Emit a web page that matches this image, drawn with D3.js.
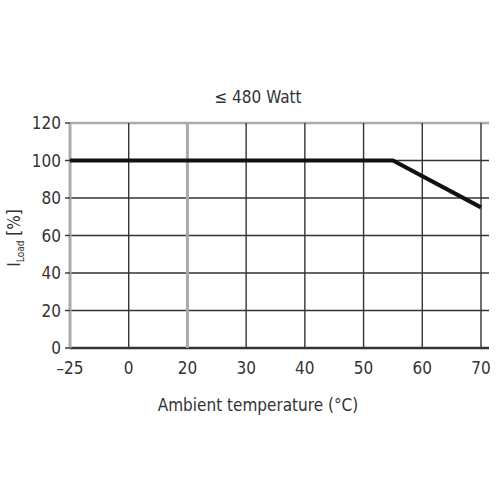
<!DOCTYPE html>
<html><head><meta charset="utf-8">
<script src="https://cdn.jsdelivr.net/npm/d3@7"></script>
<style>
body{margin:0;background:#fff;}
text{font-family:"Liberation Sans Narrow","DejaVu Sans Condensed","Roboto Condensed",sans-serif;fill:#333;}
</style></head>
<body><svg id="c" width="500" height="500"></svg>
<script>
const title = "≤ 480 Watt";
const xTicks = [-25, 0, 20, 30, 40, 50, 60, 70];
const yTicks = [0, 20, 40, 60, 80, 100, 120];
const lightX = [-25, 20];
const lineTemp = [-25, 55, 70];
const lineLoad = [100, 100, 75];
const xLabel = "Ambient temperature (°C)";

const svg = d3.select("#c");
const pLeft = 70, pRight = 481, pTop = 123, pBottom = 348;
const step = (pRight - pLeft) / (xTicks.length - 1);
const x = d3.scaleLinear().domain(xTicks).range(xTicks.map((d, i) => pLeft + i * step));
const y = d3.scaleLinear().domain([0, 120]).range([pBottom, pTop]);

// horizontal grid
svg.append("g").selectAll("line").data(yTicks).join("line")
  .attr("x1", pLeft).attr("x2", pRight + 8)
  .attr("y1", d => y(d)).attr("y2", d => y(d))
  .attr("stroke", d => d === 120 ? "#aaa" : "#333")
  .attr("stroke-width", d => d === 0 ? 2.5 : d === 120 ? 2.5 : 1.4);

// vertical grid
svg.append("g").selectAll("line").data(xTicks).join("line")
  .attr("x1", d => x(d)).attr("x2", d => x(d))
  .attr("y1", pTop).attr("y2", pBottom)
  .attr("stroke", d => lightX.includes(d) ? "#aaa" : "#333")
  .attr("stroke-width", d => lightX.includes(d) ? 3 : 1.4);

// tick stubs on y axis
svg.append("g").selectAll("line").data(yTicks).join("line")
  .attr("x1", pLeft - 5).attr("x2", pLeft)
  .attr("y1", d => y(d)).attr("y2", d => y(d))
  .attr("stroke", "#333").attr("stroke-width", 1.4);

// data line
svg.append("path")
  .datum(lineTemp.map((t, i) => [t, lineLoad[i]]))
  .attr("d", d3.line().x(d => x(d[0])).y(d => y(d[1])))
  .attr("fill", "none").attr("stroke", "#111").attr("stroke-width", 4);

// y labels
svg.append("g").selectAll("text").data(yTicks).join("text")
  .attr("x", pLeft - 9).attr("y", d => y(d)).attr("dy", "0.36em")
  .attr("text-anchor", "end").attr("font-size", 17).text(d => d);

// x labels
svg.append("g").selectAll("text").data(xTicks).join("text")
  .attr("x", d => x(d)).attr("y", pBottom + 26)
  .attr("text-anchor", "middle").attr("font-size", 17)
  .text(d => d < 0 ? "\u2013" + Math.abs(d) : d);

// title
svg.append("text").attr("x", 258).attr("y", 103)
  .attr("text-anchor", "middle").attr("font-size", 17).text(title);

// x axis label
svg.append("text").attr("x", 258).attr("y", 411)
  .attr("text-anchor", "middle").attr("font-size", 17).text(xLabel);

// y axis label
const yl = svg.append("text").attr("transform", "translate(20,238) rotate(-90)")
  .attr("text-anchor", "middle").attr("font-size", 17);
yl.append("tspan").text("I");
yl.append("tspan").attr("font-size", 10).attr("dy", 4).text("Load");
yl.append("tspan").attr("dy", -4).text(" [%]");
</script></body></html>
